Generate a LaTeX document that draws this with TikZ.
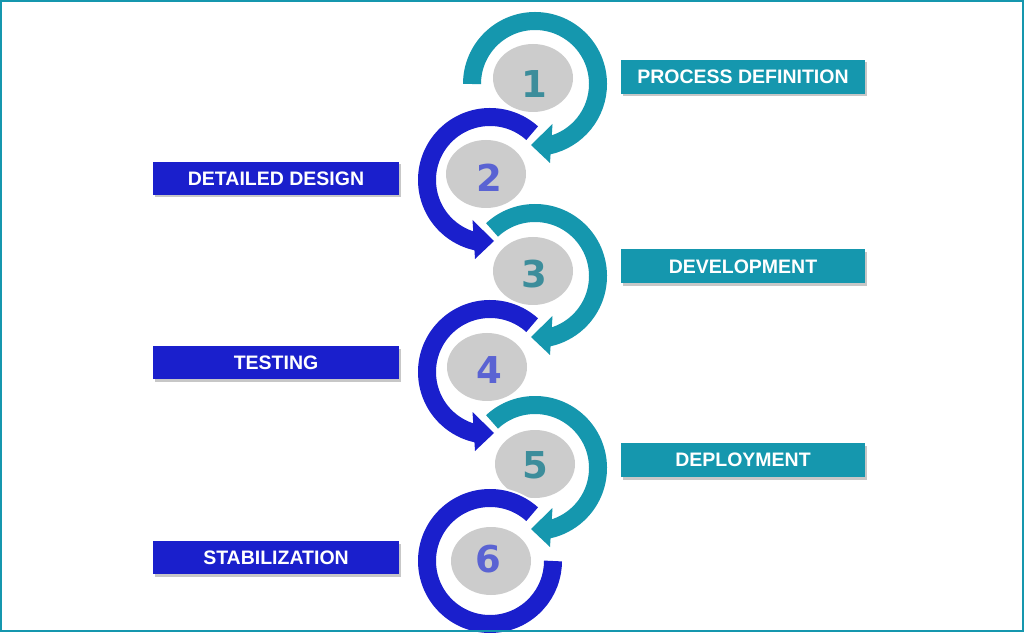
\documentclass[tikz,border=0pt]{standalone}
\usepackage{fontspec}
\setmainfont{Liberation Sans}
\newfontfamily\numfont{DejaVu Sans}
\usetikzlibrary{calc,shapes.geometric}
\definecolor{tealc}{RGB}{21,151,174}
\definecolor{bluec}{RGB}{26,31,204}
\definecolor{numodd}{RGB}{60,141,155}
\definecolor{numeven}{RGB}{90,99,211}
\definecolor{grayc}{RGB}{204,204,204}
\newcommand\ringarrow[5]{%
  \draw[white, line width=22pt] ($(#1)+(#5:63)$) arc[start angle=#5, end angle=#3, radius=63];
  \filldraw[white, line width=4pt, line join=round] ($(#1)+({-4*(#4)},-61)$) -- ($(#1)+({17.5*(#4)},-40)$) -- ($(#1)+({15*(#4)},-79)$) -- cycle;
  \draw[#4 > 0 ? tealc : bluec, line width=18pt] ($(#1)+(#2:63)$) arc[start angle=#2, end angle=#3, radius=63];
}
\begin{document}
\begin{tikzpicture}[x=1pt,y=1pt,
  lbl/.style={minimum width=244pt, minimum height=34pt, inner sep=0pt, text=white,
    font=\fontsize{19.5}{20}\selectfont\bfseries},
  shad/.style={fill=black!40, opacity=0.55, minimum width=244pt, minimum height=34pt, inner sep=0pt},
  disc/.style={ellipse, fill=grayc, minimum width=80pt, minimum height=68pt, inner sep=0pt},
  num/.style={inner sep=0pt, font=\numfont\fontsize{37}{40}\selectfont\bfseries},
  band/.style={line width=18pt},
  halo/.style={white, line width=22pt}]
\useasboundingbox (0,0) rectangle (1024,632);
\fill[white] (0,0) rectangle (1024,632);

% centers of the rings
\coordinate (c1) at (535,548);
\coordinate (c2) at (490,452);
\coordinate (c3) at (535,356);
\coordinate (c4) at (490,260);
\coordinate (c5) at (535,164);
\coordinate (c6) at (490,71);

% generic arrow drawing via foreach
\foreach \c/\s/\e/\ws/\sg/\col/\ex/\ey/\nx/\ny/\nc/\t in {
  c1/180/-78/182/1/tealc/533/554/534/548/numodd/1,
  c2/48/258/46/-1/bluec/486/458/489/454/numeven/2,
  c3/133/-78/135/1/tealc/533/361/534/358/numodd/3,
  c4/48/258/46/-1/bluec/487/265/489/262/numeven/4,
  c5/133/-78/135/1/tealc/535/168/535/167/numodd/5}{
  \draw[halo] ($(\c)+(\ws:63)$) arc[start angle=\ws, end angle=\e, radius=63];
  \filldraw[white, line width=4pt, line join=round]
    ($(\c)+({-4*\sg},-61)$) -- ($(\c)+({17.5*\sg},-40)$) -- ($(\c)+({15*\sg},-79)$) -- cycle;
  \draw[band, \col] ($(\c)+(\s:63)$) arc[start angle=\s, end angle=\e, radius=63];
  \fill[\col] ($(\c)+({-4*\sg},-61)$) -- ($(\c)+({17.5*\sg},-40)$) -- ($(\c)+({15*\sg},-79)$) -- cycle;
  \node[disc] (e\t) at (\ex,\ey) {};
  \node[num, text=\nc] (n\t) at (\nx,\ny) {\t};
}
% ring 6 (no arrowhead)
\draw[halo] ($(c6)+(46:63)$) arc[start angle=46, end angle=362, radius=63];
\draw[band, bluec] ($(c6)+(48:63)$) arc[start angle=48, end angle=360, radius=63];
\node[disc] (e6) at (491,71) {};
\node[num, text=numeven] (n6) at (488,73) {6};

% labels
\node[shad] at (744.5,552.5) {};
\node[lbl, fill=tealc] (l1) at (743,555) {PROCESS DEFINITION};
\node[shad, minimum width=246pt, minimum height=33pt] at (277.5,451) {};
\node[lbl, fill=bluec, minimum width=246pt, minimum height=33pt] (l2) at (276,453.5) {DETAILED DESIGN};
\node[shad] at (744.5,363) {};
\node[lbl, fill=tealc] (l3) at (743,365.5) {DEVELOPMENT};
\node[shad, minimum width=246pt, minimum height=33pt] at (277.5,266.5) {};
\node[lbl, fill=bluec, minimum width=246pt, minimum height=33pt] (l4) at (276,269) {TESTING};
\node[shad] at (744.5,169.5) {};
\node[lbl, fill=tealc] (l5) at (743,172) {DEPLOYMENT};
\node[shad, minimum width=246pt, minimum height=33pt] at (277.5,72) {};
\node[lbl, fill=bluec, minimum width=246pt, minimum height=33pt] (l6) at (276,74.5) {STABILIZATION};

% frame
\draw[tealc, line width=2pt] (1,1) rectangle (1023,631);
\end{tikzpicture}
\end{document}
